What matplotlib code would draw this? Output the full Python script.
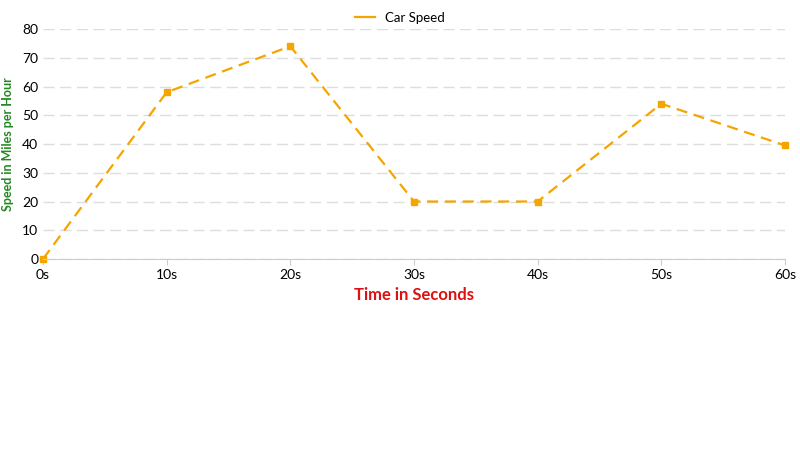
import matplotlib
matplotlib.use("Agg")
import matplotlib.pyplot as plt

labels = ["0s", "10s", "20s", "30s", "40s", "50s", "60s"]
speeds = [0, 58, 74, 20, 20, 54, 39.5]
yticks = [0, 10, 20, 30, 40, 50, 60, 70, 80]

plt.rcParams['font.family'] = ['Lato', 'DejaVu Sans']
fig = plt.figure(figsize=(8, 4.5), dpi=100)
ax = fig.add_axes([43/800, 1-259/450, 742/800, 230/450])
x = list(range(len(labels)))
ax.plot(x, speeds, color="#f5a500", linestyle=(0, (5, 3)), linewidth=1.6,
        marker="s", markersize=5, label="Car Speed", clip_on=False)
ax.set_xlim(0, len(labels)-1)
ax.set_ylim(0, 80)
ax.set_xticks(x)
ax.set_xticklabels(labels)
ax.set_yticks(yticks)
ax.grid(axis="y", color="#dddddd", linestyle=(0, (8, 4)), linewidth=1)
ax.set_axisbelow(True)
for s in ["top", "right", "left"]:
    ax.spines[s].set_visible(False)
ax.spines["bottom"].set_color("#cccccc")
ax.tick_params(axis="both", labelsize=10, color="#cccccc", length=4)
ax.tick_params(axis="y", length=0)
ax.set_xlabel("Time in Seconds", color="#dd1111", fontsize=12, fontweight="bold", labelpad=4)
ax.set_ylabel("Speed in Miles per Hour", color="#228822", fontsize=9, fontweight="bold", labelpad=6)
leg = fig.legend(handles=ax.get_lines(), loc="upper center", bbox_to_anchor=(0.5, 1.0),
                 frameon=False, fontsize=9.5, handlelength=1.5, markerscale=0)
leg.get_lines()[0].set_linestyle("-")
leg.get_lines()[0].set_marker("")
fig.savefig("out.png", dpi=100)
